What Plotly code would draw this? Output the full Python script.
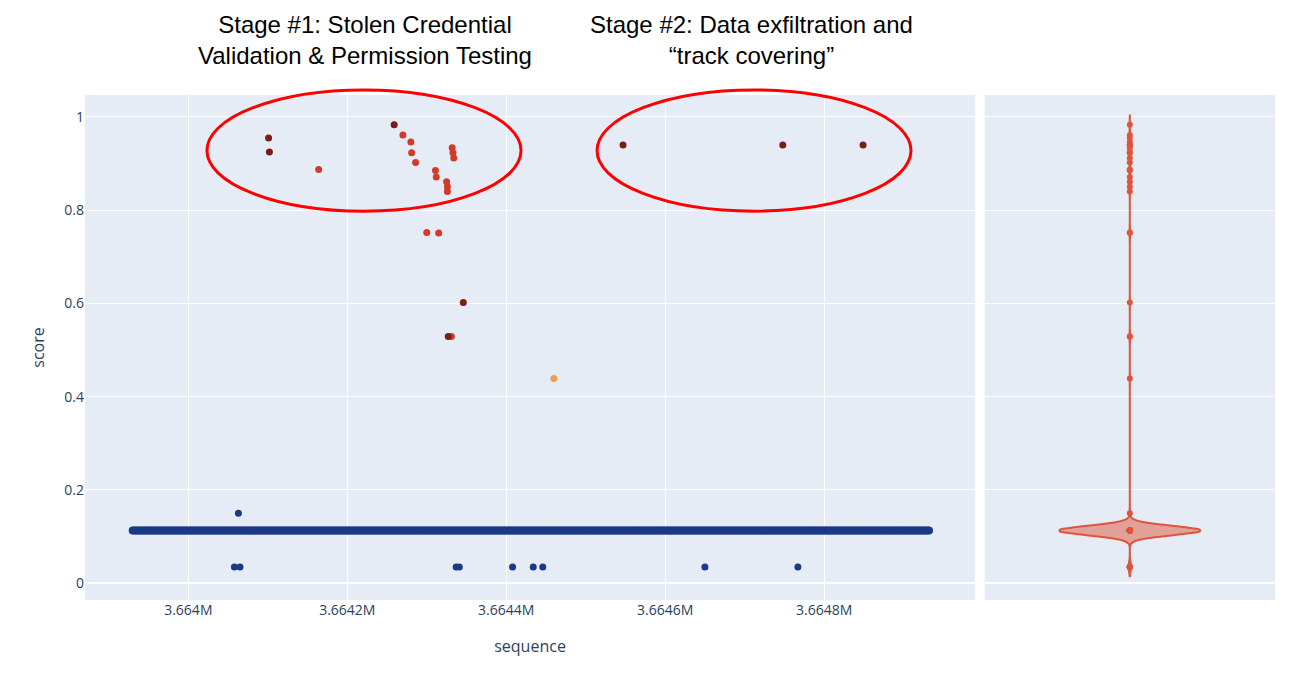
import numpy as np
import plotly.graph_objects as go

# baseline events (sequence ids) all sharing the same score
base_seq = np.arange(3663930, 3664934, 2)
base_score = [0.113] * len(base_seq)

low_seq = [3664058, 3664065, 3664337, 3664341, 3664408, 3664434, 3664446, 3664650, 3664767, 3664063]
low_score = [0.035, 0.035, 0.035, 0.035, 0.035, 0.035, 0.035, 0.035, 0.035, 0.15]

dark_seq = [3664101, 3664102, 3664259, 3664346, 3664327, 3664547, 3664748, 3664849]
dark_score = [0.955, 0.925, 0.983, 0.602, 0.529, 0.94, 0.94, 0.94]

red_seq = [3664164, 3664270, 3664280, 3664281, 3664286, 3664311, 3664312, 3664325, 3664326,
           3664326, 3664332, 3664333, 3664334, 3664300, 3664315, 3664331]
red_score = [0.887, 0.961, 0.946, 0.923, 0.902, 0.885, 0.871, 0.861, 0.85,
             0.84, 0.934, 0.923, 0.912, 0.752, 0.751, 0.529]

orange_seq = [3664460]
orange_score = [0.439]

all_scores = list(base_score) + low_score + dark_score + red_score + orange_score

fig = go.Figure()
fig.add_trace(go.Scatter(x=base_seq, y=base_score, mode="markers",
                         marker=dict(color="#1a3a85", size=8), showlegend=False))
fig.add_trace(go.Scatter(x=low_seq, y=low_score, mode="markers",
                         marker=dict(color="#1a3a85", size=7), showlegend=False))
fig.add_trace(go.Scatter(x=red_seq, y=red_score, mode="markers",
                         marker=dict(color="#d33a2a", size=7), showlegend=False))
fig.add_trace(go.Scatter(x=dark_seq, y=dark_score, mode="markers",
                         marker=dict(color="#7d1d16", size=7), showlegend=False))
fig.add_trace(go.Scatter(x=orange_seq, y=orange_score, mode="markers",
                         marker=dict(color="#eba04e", size=7), showlegend=False))
fig.add_trace(go.Violin(y=all_scores, x0=0, xaxis="x2", yaxis="y", points="all",
                        pointpos=0, jitter=0, bandwidth=0.01, line_color="#e0553a",
                        fillcolor="rgba(224,85,58,0.5)", marker=dict(size=6, color="#e0553a"),
                        showlegend=False, width=0.58))

ell = dict(type="circle", xref="paper", yref="paper", line=dict(color="#ff0000", width=3))
fig.add_shape(**ell, x0=0.1025, x1=0.3664, y0=0.770, y1=1.010)
fig.add_shape(**ell, x0=0.4303, x1=0.6941, y0=0.770, y1=1.010)

tf = dict(family="Arial", size=24, color="black")
fig.add_annotation(xref="paper", yref="paper", x=0.235, y=1.17, xanchor="center", showarrow=False,
                   text="Stage #1: Stolen Credential<br>Validation & Permission Testing", font=tf)
fig.add_annotation(xref="paper", yref="paper", x=0.56, y=1.17, xanchor="center", showarrow=False,
                   text="Stage #2: Data exfiltration and<br>“track covering”", font=tf)

fig.update_layout(
    width=1300, height=675,
    margin=dict(l=77, r=33, t=87, b=83),
    xaxis=dict(domain=[0, 0.748], range=[3663870, 3664990],
               title=dict(text="sequence", font=dict(size=16), standoff=22), tickfont=dict(size=14),
               tickvals=[3664000, 3664200, 3664400, 3664600, 3664800],
               ticktext=["3.664M", "3.6642M", "3.6644M", "3.6646M", "3.6648M"]),
    xaxis2=dict(domain=[0.756, 1], range=[-0.6, 0.6], showticklabels=False, anchor="y"),
    yaxis=dict(range=[-0.036, 1.047], title=dict(text="score", font=dict(size=16)),
               tickfont=dict(size=14), tickvals=[0, 0.2, 0.4, 0.6, 0.8, 1],
               ticktext=["0", "0.2", "0.4", "0.6", "0.8", "1"]),
)
fig.write_html("out.html")
